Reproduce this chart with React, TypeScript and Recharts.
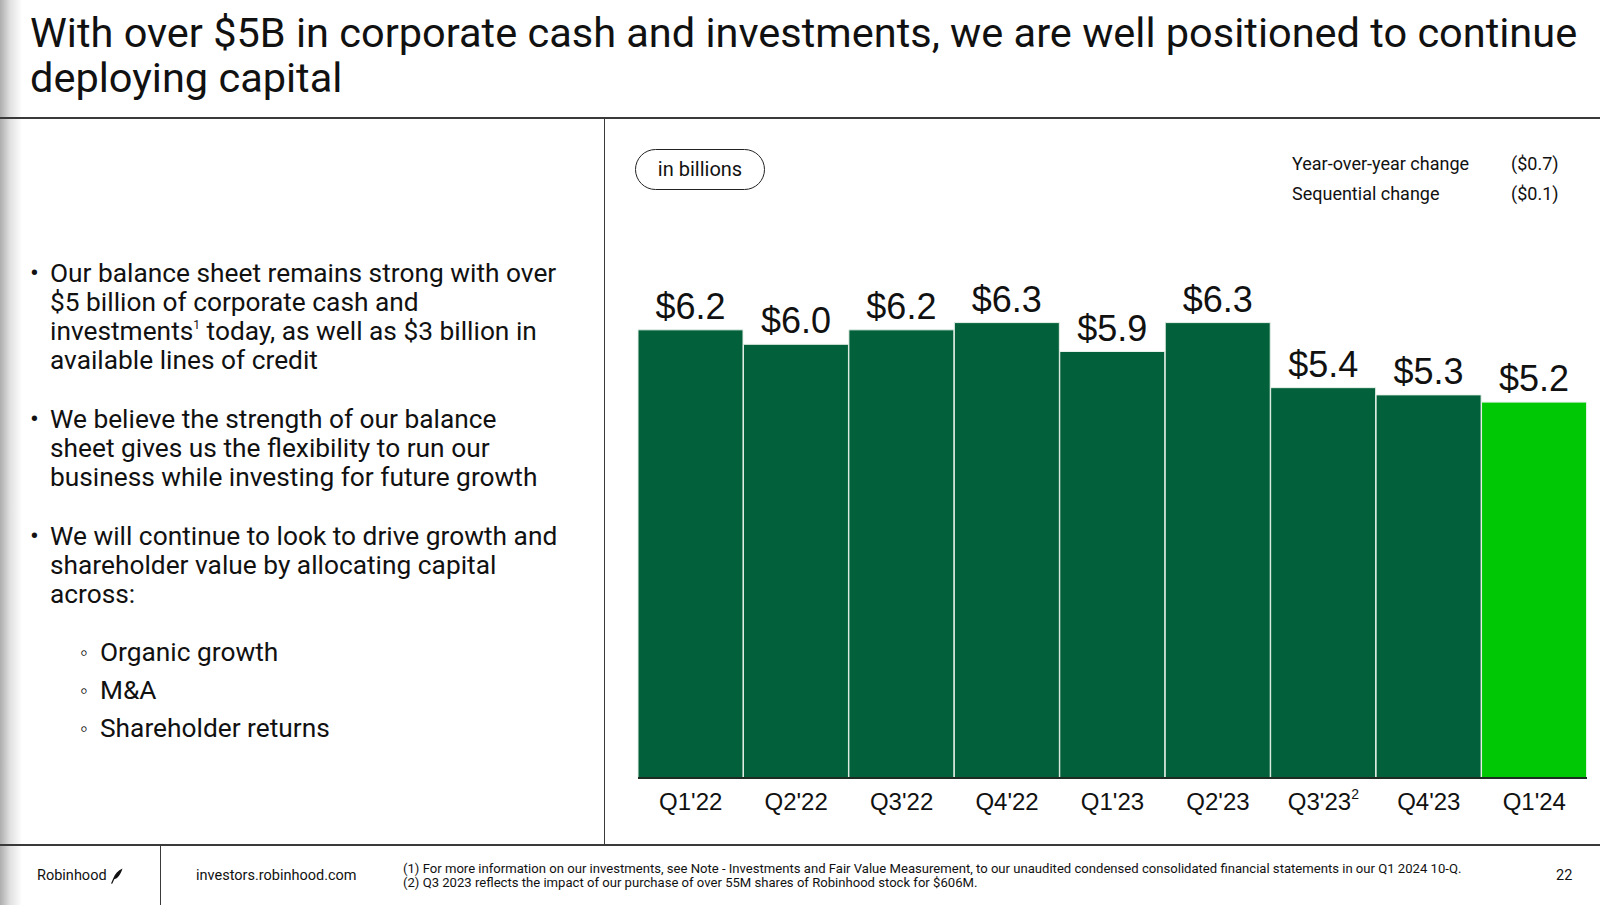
import React from "react";
import { BarChart, Bar, XAxis, YAxis, Cell, LabelList } from "recharts";

const categories = ["Q1'22", "Q2'22", "Q3'22", "Q4'22", "Q1'23", "Q2'23", "Q3'23", "Q4'23", "Q1'24"];
const values = [6.2, 6.0, 6.2, 6.3, 5.9, 6.3, 5.4, 5.3, 5.2];
const tickSuperscripts = ["", "", "", "", "", "", "2", "", ""];
const highlightCategory = "Q1'24";

const data = categories.map((c, i) => ({ name: c, value: values[i], sup: tickSuperscripts[i] }));

const DARK = "#02603A";
const BRIGHT = "#00C805";
const TEXT = "#111111";
const UI_FONT = "Roboto, 'Noto Sans', sans-serif";
const NUM_FONT = "'Liberation Sans', Arial, sans-serif";

const ValueLabel = (props: any) => {
  const { x, y, width, value } = props;
  return (
    <text x={x + width / 2} y={y - 11} textAnchor="middle" fontFamily={NUM_FONT} fontSize={36} fill={TEXT}>
      {"$" + Number(value).toFixed(1)}
    </text>
  );
};

const Tick = (props: any) => {
  const { x, y, payload, index } = props;
  const sup = tickSuperscripts[index] || "";
  return (
    <text x={x} y={y + 24} textAnchor="middle" fontFamily={NUM_FONT} fontSize={24} fill={TEXT}>
      <tspan>{payload.value}</tspan>
      {sup ? (
        <tspan dy={-11} fontSize={14}>
          {sup}
        </tspan>
      ) : null}
    </text>
  );
};

const abs = (s: React.CSSProperties): React.CSSProperties => ({ position: "absolute", ...s });

export default function App() {
  const bullet: React.CSSProperties = { fontFamily: UI_FONT, fontSize: 26.3, lineHeight: "29px", color: TEXT };
  const legend: React.CSSProperties = { fontFamily: UI_FONT, fontSize: 18, lineHeight: "20px", color: TEXT };
  const foot: React.CSSProperties = { fontFamily: UI_FONT, fontSize: 14.5, lineHeight: "20px", color: TEXT };
  return (
    <div style={abs({ left: 0, top: 0, width: 1600, height: 905, background: "#fff", overflow: "hidden" })}>
      {/* left page shadow */}
      <div
        style={abs({
          left: 0,
          top: 0,
          width: 22,
          height: 905,
          background: "linear-gradient(to right, rgba(0,0,0,0.32), rgba(0,0,0,0.12) 45%, rgba(0,0,0,0))",
        })}
      />
      {/* title */}
      <div
        style={abs({
          left: 30,
          top: 10,
          width: 1570,
          whiteSpace: "nowrap",
          fontFamily: UI_FONT,
          fontSize: 41.5,
          lineHeight: "45px",
          color: TEXT,
        })}
      >
        With over $5B in corporate cash and investments, we are well positioned to continue
        <br />
        deploying capital
      </div>
      {/* dividers */}
      <div style={abs({ left: 0, top: 117, width: 1600, height: 2, background: "#3a3a3a" })} />
      <div style={abs({ left: 604, top: 118, width: 1, height: 727, background: "#3a3a3a" })} />
      <div style={abs({ left: 0, top: 844, width: 1600, height: 2, background: "#3a3a3a" })} />
      <div style={abs({ left: 160, top: 845, width: 1, height: 60, background: "#3a3a3a" })} />

      {/* left bullets */}
      <div style={abs({ left: 30, top: 259, ...bullet })}>•</div>
      <div style={abs({ left: 50, top: 259, width: 560, whiteSpace: "nowrap", ...bullet })}>
        Our balance sheet remains strong with over
        <br />
        $5 billion of corporate cash and
        <br />
        investments<sup style={{ fontSize: 12, verticalAlign: "top", lineHeight: "16px" }}>1</sup> today, as well as $3 billion in
        <br />
        available lines of credit
      </div>
      <div style={abs({ left: 30, top: 405, ...bullet })}>•</div>
      <div style={abs({ left: 50, top: 405, width: 560, whiteSpace: "nowrap", ...bullet })}>
        We believe the strength of our balance
        <br />
        sheet gives us the flexibility to run our
        <br />
        business while investing for future growth
      </div>
      <div style={abs({ left: 30, top: 522, ...bullet })}>•</div>
      <div style={abs({ left: 50, top: 522, width: 560, whiteSpace: "nowrap", ...bullet })}>
        We will continue to look to drive growth and
        <br />
        shareholder value by allocating capital
        <br />
        across:
      </div>
      {["Organic growth", "M&A", "Shareholder returns"].map((t, i) => (
        <React.Fragment key={t}>
          <div style={abs({ left: 80, top: 638 + i * 37.8, ...bullet, fontSize: 22 })}>◦</div>
          <div style={abs({ left: 100, top: 638 + i * 37.8, ...bullet })}>{t}</div>
        </React.Fragment>
      ))}

      {/* in billions pill */}
      <div
        style={abs({
          left: 635,
          top: 149,
          width: 128,
          height: 39,
          border: "1.5px solid #222",
          borderRadius: 21,
          fontFamily: UI_FONT,
          fontSize: 20,
          lineHeight: "39px",
          textAlign: "center",
          color: TEXT,
        })}
      >
        in billions
      </div>

      {/* change table */}
      <div style={abs({ left: 1292, top: 154, ...legend })}>Year-over-year change</div>
      <div style={abs({ left: 1511, top: 154, ...legend })}>($0.7)</div>
      <div style={abs({ left: 1292, top: 184, ...legend })}>Sequential change</div>
      <div style={abs({ left: 1511, top: 184, ...legend })}>($0.1)</div>

      {/* chart */}
      <div style={abs({ left: 600, top: 130, width: 1000, height: 720 })}>
        <BarChart
          width={1000}
          height={720}
          data={data}
          margin={{ top: 142, right: 13, bottom: 12, left: 38 }}
          barCategoryGap={0}
        >
          <YAxis hide domain={[0, 7]} />
          <XAxis
            dataKey="name"
            height={60}
            interval={0}
            tickLine={false}
            axisLine={{ stroke: "#1d2b22", strokeWidth: 2 }}
            tick={<Tick />}
          />
          <Bar dataKey="value" isAnimationActive={false} stroke="#e8f2ea" strokeWidth={1}>
            {data.map((d) => (
              <Cell key={d.name} fill={d.name === highlightCategory ? BRIGHT : DARK} />
            ))}
            <LabelList dataKey="value" content={<ValueLabel />} />
          </Bar>
        </BarChart>
      </div>

      {/* footer */}
      <div style={abs({ left: 37, top: 866, ...foot, display: "flex", alignItems: "center" })}>
        <span>Robinhood</span>
        <svg width="14" height="16" viewBox="0 0 14 16" style={{ marginLeft: 3 }}>
          <path d="M12.5 0.5 C 8 2.5, 5 6, 3.2 10.5 L 1 15.5 L 2.2 15.8 L 4.3 11.2 C 7.5 10.5, 10.5 7, 12.5 0.5 Z" fill="#111" />
        </svg>
      </div>
      <div style={abs({ left: 196, top: 866, ...foot })}>investors.robinhood.com</div>
      <div
        style={abs({
          left: 403,
          top: 862,
          whiteSpace: "nowrap",
          fontFamily: UI_FONT,
          fontSize: 13.1,
          lineHeight: "14px",
          color: TEXT,
        })}
      >
        (1) For more information on our investments, see Note - Investments and Fair Value Measurement, to our unaudited condensed consolidated financial statements in our Q1 2024 10-Q.
        <br />
        (2) Q3 2023 reflects the impact of our purchase of over 55M shares of Robinhood stock for $606M.
      </div>
      <div style={abs({ left: 1556, top: 866, ...foot })}>22</div>
    </div>
  );
}
